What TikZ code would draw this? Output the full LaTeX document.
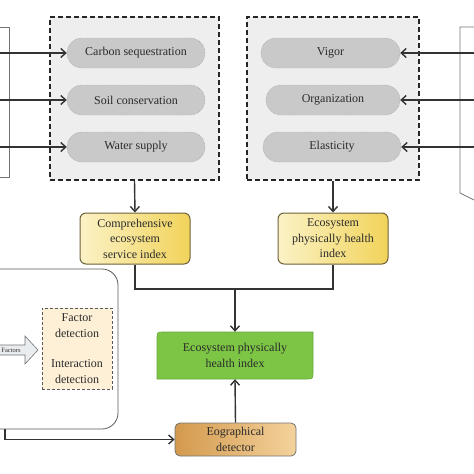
\documentclass[tikz,border=0pt]{standalone}
\usepackage{fontspec}
\setmainfont{Liberation Serif}
\usetikzlibrary{arrows.meta}

\definecolor{linegray}{HTML}{333333}
\definecolor{textgray}{HTML}{2B2B2B}
\definecolor{groupgray}{HTML}{EEEEEE}
\definecolor{pillgray}{HTML}{C9C9C9}
\definecolor{yelllight}{HTML}{FBF2C6}
\definecolor{yelldark}{HTML}{F1D35A}
\definecolor{yellborder}{HTML}{6E613A}
\definecolor{ephigreen}{HTML}{7CC545}
\definecolor{geodark}{HTML}{D39A4E}
\definecolor{geolight}{HTML}{F4D29C}
\definecolor{detfill}{HTML}{FDF0D6}
\definecolor{arrowfill}{HTML}{E9EDF0}

\begin{document}
\begin{tikzpicture}[x=1pt,y=-1pt,
    arr/.style={draw=linegray, line width=1.4pt, -{Straight Barb[length=5pt,width=9pt]}},
    link/.style={draw=linegray, line width=1.4pt},
    group/.style={draw=black!85, fill=groupgray, line width=1.4pt, dash pattern=on 5pt off 3pt, minimum height=163pt},
    pill/.style={draw=black!45, densely dotted, fill=pillgray, rounded corners=15pt, minimum height=30pt, text=textgray, font=\fontsize{12}{14}\selectfont},
    ybox/.style={draw=yellborder, line width=1pt, rounded corners=6pt, left color=yelllight, right color=yelldark, align=center, text=textgray, minimum width=110pt, minimum height=51pt, font=\fontsize{12}{15.5}\selectfont},
    txt/.style={text=textgray, align=center, font=\fontsize{12}{15.5}\selectfont}
  ]
    \useasboundingbox (0,0) rectangle (474,474);
    \clip (0,0) rectangle (474,474);

    %source boxes, only partly inside the picture
    \node[draw=black!55, line width=0.8pt, minimum width=40pt, minimum height=150pt] (leftsrc) at (-11,102) {};
    \draw[black!55, line width=0.8pt] (490,27) -- (460,27) -- (460,193) -- (490,208);
    \coordinate (rightsrc) at (480,0);

    %ecosystem services
    \node[group, minimum width=169pt] (svcgroup) at (134.5,98.5) {};
    \node[pill, minimum width=138pt] (carbon) at (136,53) {Carbon sequestration};
    \node[pill, minimum width=138pt] (soil) at (136,100) {Soil conservation};
    \node[pill, minimum width=138pt] (water) at (136,147) {Water supply};

    %ecosystem health
    \node[group, minimum width=172pt] (hlthgroup) at (333,98.5) {};
    \node[pill, minimum width=139pt] (vigor) at (330.5,53) {Vigor};
    \node[pill, minimum width=134pt] (organ) at (333,100) {Organization};
    \node[pill, minimum width=138pt] (elastic) at (332,147) {Elasticity};

    \draw[arr] (leftsrc.west |- carbon) -- (carbon);
    \draw[arr] (leftsrc.west |- soil) -- (soil);
    \draw[arr] (leftsrc.west |- water) -- (water);
    \draw[arr] (rightsrc |- vigor) -- (vigor);
    \draw[arr] (rightsrc |- organ) -- (organ);
    \draw[arr] (rightsrc |- elastic) -- (elastic);

    %index boxes
    \node[ybox] (svcidx) at (135,238.5) {Comprehensive\\ecosystem\\service index};
    \node[ybox] (hlthidx) at (333,238.5) {Ecosystem\\physically health\\index};
    \draw[arr] (svcgroup.south) -- (svcidx.north);
    \draw[arr] (hlthgroup.south) -- (hlthidx.north);

    %combined index (157-313 x 332-379)
    \filldraw[fill=ephigreen, draw=ephigreen!85!black, line width=0.6pt]
        (157,379) -- (157,339) .. controls (157,332) .. (164,332) -- (313,332)
        -- (313,372) .. controls (313,379) .. (306,379) -- cycle;
    \node[txt, minimum width=156pt, minimum height=47pt] (ephi) at (235,355.5) {Ecosystem physically\\health index};
    \coordinate (junc) at (235,289);
    \draw[link] (svcidx.south) |- (junc);
    \draw[link] (hlthidx.south) |- (junc);
    \draw[arr] (junc) -- (ephi.north);

    %geodetector part
    \node[draw=black!65, line width=0.8pt, rounded corners=16pt, minimum width=158pt, minimum height=160pt] (leftbox) at (39,349) {};
    \node[txt, draw=black!65, densely dashed, fill=detfill, minimum width=70pt, minimum height=81pt] (detect) at (77,348.5) {Factor\\detection\\[15pt]Interaction\\detection};
    \filldraw[fill=arrowfill, draw=black!55, line width=0.6pt] (-10,345) -- (25,345) -- (25,336) -- (38,350) -- (25,364) -- (25,355) -- (-10,355) -- cycle;
    \node[text=textgray, font=\fontsize{6.5}{7}\selectfont] (factors) at (11,350) {Factors};

    \node[txt, draw=black!55, line width=0.8pt, rounded corners=5pt, left color=geodark, right color=geolight, minimum width=121pt, minimum height=33pt] (geodet) at (235.5,439.5) {Eographical\\detector};
    \draw[arr] ([xshift=-34pt]leftbox.south) |- (geodet.west);
    \draw[arr] (geodet.north) -- (ephi.south);
\end{tikzpicture}
\end{document}
